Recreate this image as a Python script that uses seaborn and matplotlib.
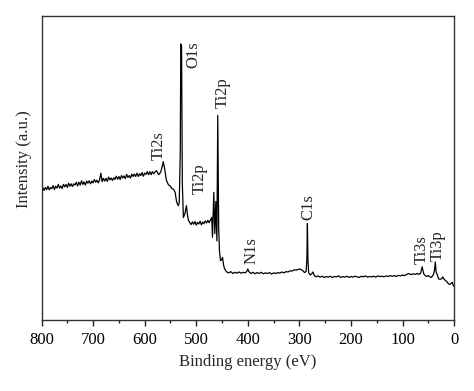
import numpy as np
import pandas as pd
import seaborn as sns
import matplotlib.pyplot as plt

# XPS survey spectrum, binding energy (eV) vs intensity (a.u., 0-100 scale)
energy = [800, 797.5, 795, 792.5, 790, 787.5, 785, 782.5, 780, 777.5,
          775, 772.5, 770, 767.5, 765, 762.5, 760, 757.5, 755, 752.5,
          750, 747.5, 745, 742.5, 740, 737.5, 735, 732.5, 730, 727.5,
          725, 722.5, 720, 717.5, 715, 712.5, 710, 707.5, 705, 702.5,
          700, 697.5, 695, 692.5, 690, 687.5, 685, 682.5, 680, 677.5,
          675, 672.5, 670, 667.5, 665, 662.5, 660, 657.5, 655, 652.5,
          650, 647.5, 645, 642.5, 640, 637.5, 635, 632.5, 630, 627.5,
          625, 622.5, 620, 617.5, 615, 612.5, 610, 607.5, 605, 602.5,
          600, 597.5, 595, 592.5, 590, 587.5, 585, 582.5, 580, 577,
          573, 569, 566, 564, 561, 558, 554, 550, 547, 544,
          541, 538, 535, 533, 531, 530, 528.5, 527, 525, 522,
          519, 517, 515, 512.5, 510, 507.5, 505, 502.5, 500, 497.5,
          495, 492.5, 490, 487.5, 485, 482.5, 480, 477.5, 475, 472.5,
          470, 468.5, 466, 464, 462, 460, 458.3, 456.5, 455, 453,
          451, 449, 447, 445, 441, 437, 433, 429, 425, 421,
          417, 413, 409, 405, 402, 400, 398, 394, 390, 386,
          382, 378, 374, 370, 366, 362, 358, 354, 350, 346,
          342, 338, 334, 330, 326, 322, 318, 314, 310, 306,
          302, 298, 294, 290, 287, 285.5, 284.5, 283.5, 282, 279,
          276, 274, 271, 268, 264, 260, 256, 252, 248, 244,
          240, 236, 232, 228, 224, 220, 216, 212, 208, 204,
          200, 196, 192, 188, 184, 180, 176, 172, 168, 164,
          160, 156, 152, 148, 144, 140, 136, 132, 128, 124,
          120, 116, 112, 108, 104, 100, 96, 92, 88, 84,
          80, 76, 72, 68, 65, 62, 59, 56, 53, 50,
          47, 44, 40, 38, 36.5, 35, 33, 30, 27, 24,
          22, 20, 17, 14, 11, 8, 5, 3.5, 2, 0]
intensity = [42.9, 43.6, 42.6, 43.6, 42.9, 44.0, 42.8, 43.6, 43.2, 44.2,
             42.9, 44.0, 43.4, 44.6, 43.4, 44.1, 43.2, 44.6, 43.8, 44.6,
             43.6, 45.0, 44.0, 44.8, 43.9, 44.8, 44.4, 45.3, 44.1, 45.3,
             44.4, 45.8, 44.6, 45.4, 44.4, 45.7, 45.0, 45.8, 44.8, 45.7,
             45.1, 46.2, 45.3, 46.0, 45.1, 46.0, 48.3, 45.5, 46.6, 45.7,
             46.6, 45.6, 47.0, 46.1, 46.7, 45.9, 46.8, 46.2, 47.3, 46.3,
             47.2, 46.2, 47.5, 46.7, 47.4, 46.5, 47.9, 46.9, 47.5, 46.7,
             48.0, 47.2, 48.0, 47.2, 48.3, 47.2, 48.1, 47.5, 48.5, 47.3,
             48.3, 47.9, 48.8, 47.8, 48.8, 47.8, 48.8, 48.1, 48.7, 49.1,
             47.8, 48.6, 50.5, 52.1, 49.5, 46.0, 44.5, 44.0, 43.2, 43.0,
             42.0, 38.8, 37.6, 38.5, 55.0, 90.8, 90.0, 45.0, 33.7, 35.0,
             37.6, 34.5, 32.7, 32.0, 31.4, 32.3, 31.5, 32.4, 31.2, 32.1,
             31.6, 32.5, 31.3, 32.2, 31.7, 32.6, 31.9, 32.8, 32.0, 32.9,
             33.8, 27.2, 42.0, 28.4, 39.0, 26.0, 67.3, 30.0, 22.8, 19.5,
             19.8, 20.6, 18.0, 16.8, 15.8, 15.5, 15.9, 15.3, 15.7, 15.4,
             15.8, 15.4, 15.7, 15.5, 16.0, 16.8, 15.9, 15.3, 15.7, 15.2,
             15.6, 15.3, 15.7, 15.2, 15.5, 15.3, 15.6, 15.1, 15.5, 15.3,
             15.6, 15.4, 15.8, 15.5, 15.9, 15.8, 16.2, 16.1, 16.5, 16.4,
             16.7, 16.7, 16.3, 15.6, 16.0, 20.0, 31.7, 20.0, 15.5, 14.8,
             15.2, 15.8, 14.6, 14.2, 14.5, 14.1, 14.4, 14.0, 14.3, 14.1,
             14.4, 14.0, 14.3, 14.2, 14.5, 14.0, 14.3, 14.1, 14.4, 14.0,
             14.3, 14.1, 14.4, 14.2, 14.0, 14.4, 14.2, 14.5, 14.1, 14.3,
             14.2, 14.4, 14.1, 14.5, 14.3, 14.4, 14.2, 14.5, 14.3, 14.6,
             14.4, 14.6, 14.3, 14.7, 14.5, 14.8, 14.6, 15.0, 15.3, 14.9,
             15.2, 15.0, 15.3, 15.0, 15.4, 17.5, 15.2, 14.6, 14.3, 14.6,
             14.2, 14.0, 15.0, 16.5, 19.1, 15.8, 15.0, 13.5, 13.4, 13.6,
             14.2, 13.5, 13.0, 12.6, 11.9, 11.7, 12.2, 12.4, 11.5, 11.0]

peak_labels = ["Ti2s", "O1s", "Ti2p", "Ti2p", "N1s", "C1s", "Ti3s", "Ti3p"]
label_x = [573, 505, 448, 494, 392, 282.5, 62, 32]
label_y = [52.5, 82.8, 69.6, 41.6, 18.5, 33.0, 18.5, 19.5]

df = pd.DataFrame({"energy": energy, "intensity": intensity})

sns.set_style("ticks")
plt.rcParams['font.family'] = ['Liberation Serif', 'DejaVu Serif']
plt.rcParams['font.size'] = 12

fig = plt.figure(figsize=(4.74, 3.91), dpi=100)
ax = fig.add_axes([0.0876, 0.1816, 0.8705, 0.7775])

sns.lineplot(data=df, x="energy", y="intensity", estimator=None, sort=False,
             color="black", linewidth=0.9, ax=ax)

for lab, lx, ly in zip(peak_labels, label_x, label_y):
    ax.text(lx, ly, lab, rotation=90, ha="center", va="bottom", fontsize=12)

ax.set_xlim(800, 0)
ax.set_ylim(0, 100)
ax.set_xticks(range(0, 801, 100))
ax.set_xticks(range(50, 800, 100), minor=True)
ax.set_yticks([])
ax.tick_params(axis="x", which="major", direction="out", length=4, width=1,
               labelsize=12, pad=5, colors="#222222", labelcolor="black")
ax.tick_params(axis="x", which="minor", direction="out", length=2.5, width=1,
               colors="#222222")
for s in ax.spines.values():
    s.set_color("#333333")
    s.set_linewidth(1.0)

ax.set_xlabel("Binding energy (eV)", fontsize=12, labelpad=4)
ax.set_ylabel("Intensity (a.u.)", fontsize=12)
ax.yaxis.set_label_coords(-0.024, 0.53)

fig.savefig("out.png", dpi=100)
